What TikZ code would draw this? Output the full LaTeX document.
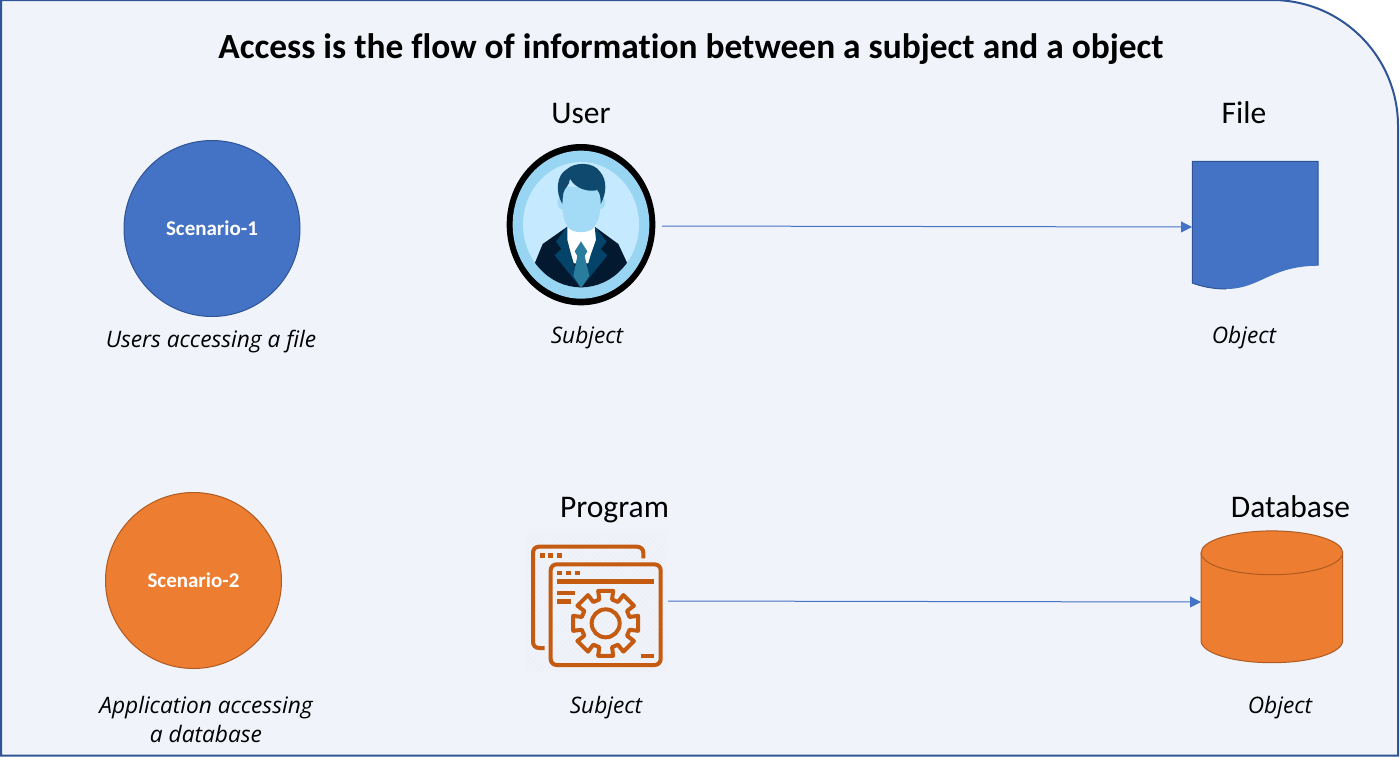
\documentclass[tikz,border=0pt]{standalone}
\usepackage{fontspec}
\setmainfont[Ligatures=NoCommon]{Carlito}
\newfontfamily\opensans{Open Sans}
\usetikzlibrary{arrows.meta,shapes.geometric}
\definecolor{panelfill}{HTML}{F0F3FA}
\definecolor{panelline}{HTML}{2F5597}
\definecolor{bluefill}{HTML}{4472C4}
\definecolor{orangefill}{HTML}{ED7D31}
\definecolor{orangeline}{HTML}{AE5A21}
\definecolor{iconline}{HTML}{C55A11}
\definecolor{ringblue}{HTML}{97D5F3}
\definecolor{innerblue}{HTML}{C5E9FE}
\definecolor{faceblue}{HTML}{A3DBF7}
\definecolor{hairblue}{HTML}{0F4A6E}
\definecolor{suitdark}{HTML}{03192F}
\definecolor{lapel}{HTML}{04436A}
\definecolor{tieblue}{HTML}{2A7C9C}
\tikzset{
  scenario/.style={circle,minimum size=176,inner sep=0,text=white,font=\fontsize{21}{24}\selectfont\bfseries,line width=1},
  heading/.style={font=\fontsize{31.5}{36}\selectfont,text=black,inner sep=0},
  caption/.style={font=\opensans\fontsize{22.7}{29}\selectfont\itshape,text=black,inner sep=0,align=center},
  flow/.style={draw=bluefill,line width=1,-{Triangle[length=11,width=11,fill=bluefill]}},
  iconstroke/.style={draw=iconline,line width=4,fill=none}
}
\begin{document}
\begin{tikzpicture}[x=1pt,y=-1pt]
\useasboundingbox (0,0) rectangle (1400,764);
\fill[white] (0,0) rectangle (1400,764);
\draw[panelline,line width=2,fill=panelfill] (1,0) -- (1272,0) arc[start angle=90,end angle=0,x radius=126,y radius=-126] -- (1398,755.5) -- (1,755.5) -- cycle;
\node[font=\fontsize{35.4}{40}\selectfont\bfseries,inner sep=0] (title) at (691,49) {Access is the flow of information between a subject and a object};
% scenarios
\node[scenario,draw=panelline,fill=bluefill] (s1) at (212,228.5) {Scenario-1};
\node[scenario,draw=orangeline,fill=orangefill] (s2) at (193.5,580.5) {Scenario-2};
\node[caption] (c1) at (211,341.5) {Users accessing a file};
\node[caption] (c2) at (206,719) {Application accessing\\a database};
% headings
\node[heading] (huser) at (581,114) {User};
\node[heading] (hfile) at (1244,113) {File};
\node[heading] (hprog) at (614.5,510) {Program};
\node[heading] (hdb) at (1290.5,507) {Database};
\node[caption] (c3) at (587,338) {Subject};
\node[caption] (c4) at (1244,338) {Object};
\node[caption] (c5) at (606,708) {Subject};
\node[caption] (c6) at (1280,708) {Object};
% avatar
\begin{scope}[shift={(490,130)},scale=1/3]
\fill[black] (273,284) ellipse[x radius=223,y radius=242];
\fill[ringblue] (273,284) ellipse[x radius=205,y radius=222];
\fill[innerblue] (273,284) ellipse[x radius=174,y radius=188];
\begin{scope}
\clip (273,284) ellipse[x radius=174,y radius=188];
\fill[suitdark] (135,398) -- (158,342) -- (232,290) -- (314,290) -- (385,342) -- (411,398) -- (411,480) -- (135,480) -- cycle;
\fill[white] (230,285) -- (318,285) -- (318,352) -- (296,400) -- (250,400) -- (230,352) -- cycle;
\fill[lapel] (232,288) -- (198,335) -- (214,357) -- (194,376) -- (273,474) -- (243,372) -- (232,330) -- cycle;
\fill[lapel] (314,288) -- (350,335) -- (332,357) -- (352,376) -- (273,474) -- (303,372) -- (318,330) -- cycle;
\fill[tieblue] (273,334) -- (292,364) -- (284,378) -- (298,438) -- (273,474) -- (250,438) -- (262,378) -- (254,364) -- cycle;
\end{scope}
\fill[faceblue] (205,205) .. controls (196,225) and (210,240) .. (218,238) -- (328,238) .. controls (338,240) and (352,225) .. (343,205) -- cycle;
\fill[faceblue] (217,170) -- (331,170) -- (331,235) .. controls (328,270) and (318,280) .. (314,290) .. controls (300,312) and (246,312) .. (232,290) .. controls (228,280) and (220,270) .. (217,235) -- cycle;
\fill[hairblue] (217,222) .. controls (195,185) and (200,135) .. (230,118) .. controls (255,95) and (310,95) .. (330,125) .. controls (352,150) and (350,190) .. (332,222) .. controls (332,200) and (330,190) .. (322,180) .. controls (295,188) and (255,175) .. (240,146) .. controls (240,165) and (222,175) .. (220,190) .. controls (218,200) and (218,210) .. (217,222) -- cycle;
\end{scope}
\node[ellipse,minimum width=148,minimum height=161,inner sep=0] (user) at (581,224.7) {};
% file
\fill[bluefill] (1192.3,161.3) -- (1318,161.3) -- (1318,265.7) .. controls (1270,266) and (1260,289) .. (1226,289) .. controls (1212,289) and (1200,286) .. (1192.3,283) -- cycle;
\draw[panelline,line width=1] (1318,265.7) -- (1318,161.3) -- (1192.3,161.3) -- (1192.3,283) .. controls (1200,286) and (1212,289) .. (1226,289);
\coordinate (filein) at (1192,227);
\coordinate (userout) at (662,226);
\draw[flow] (userout) -- (filein);
% program icon
\begin{scope}[shift={(510,525)},scale=1/3]
\begin{scope}
\clip (50,20) rectangle (470,440);
\foreach \k in {0,14,...,840}{\draw[panelfill!98!black,line width=0.7] (50+\k-420,440) -- (50+\k,20);}
\end{scope}
\draw[iconstroke,line cap=butt] (400,100) -- (400,84) .. controls (400,72) and (392,65) .. (380,65) -- (88,65) .. controls (76,65) and (69,72) .. (69,84) -- (69,350) .. controls (69,362) and (76,369) .. (88,369) -- (104,369);
\draw[iconstroke,rounded corners=6] (122,118) rectangle (452,420);
\foreach \px in {89,115,141}{\fill[iconline] (\px,85) rectangle (\px+15,99);}
\foreach \px in {141,168,195}{\fill[iconline] (\px,137) rectangle (\px+15,151);}
\fill[iconline] (141,163) rectangle (433,177);
\fill[iconline] (141,198) rectangle (195,211);
\fill[iconline] (141,223) rectangle (183,236);
\fill[iconline] (393,387) rectangle (433,400);
\def\gearpts{}
\foreach \a in {0,45,...,315}{\xdef\gearpts{\gearpts (\a-13:100) -- (\a+13:100) -- (\a+15:74) -- (\a+30:74) -- }}
\begin{scope}[shift={(287,295)}]
\draw[iconstroke,line join=round] \gearpts cycle;
\draw[iconstroke] (0,0) circle[radius=42];
\end{scope}
\end{scope}
\coordinate (progout) at (668,601);
\coordinate (dbin) at (1201,602);
\draw[flow] (progout) -- (dbin);
% database
\draw[orangeline,line width=1,fill=orangefill] (1201,552.7) -- (1201,640.7) arc[start angle=180,end angle=360,x radius=70.8,y radius=-22] -- (1342.7,552.7) arc[start angle=0,end angle=180,x radius=70.8,y radius=-21.8] -- cycle;
\draw[orangeline,line width=1] (1201,552.7) arc[start angle=180,end angle=360,x radius=70.8,y radius=-22];
\end{tikzpicture}
\end{document}
